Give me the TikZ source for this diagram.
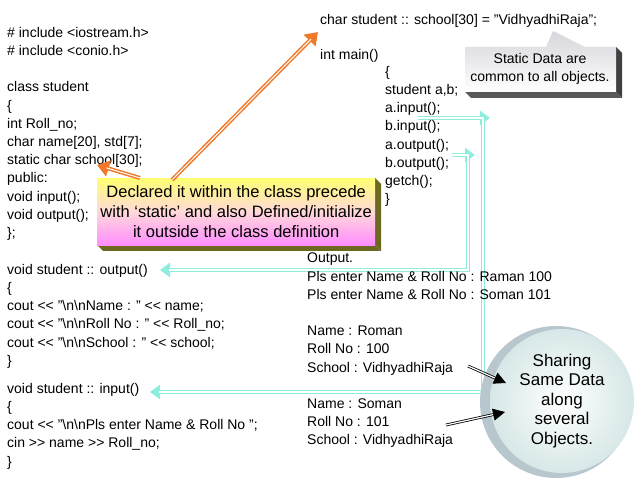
\documentclass[tikz,border=0pt]{standalone}
\usepackage{fontspec}
\setmainfont{Liberation Sans}
\usetikzlibrary{arrows.meta,shapes.callouts}
\definecolor{aqua}{HTML}{8EEEDE}
\definecolor{arr}{HTML}{F07828}
\tikzset{
 code/.style={anchor=north west,align=left,inner sep=0pt,font=\fontsize{14}{18.2}\selectfont},
 cyanarr/.style={draw=aqua,line width=4.5pt,-{Triangle[length=10pt,width=14pt]}},
 cyanin/.style={draw=white,line width=2pt,shorten >=9pt},
 orarr/.style={draw=arr,line width=4pt,-{Triangle[length=12pt,width=16pt]}},
 blkarr/.style={draw=black,double=white,double distance=1.2pt,line width=0.8pt,-{Triangle[length=12pt,width=12pt]}},
}
\begin{document}
\begin{tikzpicture}[x=1pt,y=-1pt]
\useasboundingbox (0,0) rectangle (638,478);
% cyan connectors
\coordinate (ai) at (418,118);
\coordinate (bo) at (452,155);
\coordinate (c1) at (483,118);
\coordinate (c2) at (468,155);
\coordinate (o1) at (160,270);
\coordinate (i1) at (150,392);
\draw[draw=aqua,line width=4.5pt] (ai) -- (c1);
\draw[cyanarr] (c1) |- (i1);
\draw[draw=aqua,line width=4.5pt] (bo) -- (c2);
\draw[cyanarr] (c2) |- (o1);
\draw[draw=aqua,line width=4.5pt,-{Triangle[length=10pt,width=14pt]}] (470,118) -- (490,118);
\draw[draw=aqua,line width=4.5pt,-{Triangle[length=10pt,width=14pt]}] (455,155) -- (475,155);
\draw[cyanin] (ai) -- (c1) |- (i1);
\draw[cyanin] (bo) -- (c2) |- (o1);
% left code
\node[code] (top) at (7,27) {\# include <iostream.h>\\\# include <conio.h>\\\mbox{}\\class student\\\{\\int Roll\_no;\\char name[20], std[7];\\static char school[30];\\public:\\void input();\\void output();\\\};};
\node[code] (outf) at (7,264) {void student :: output()\\\{\\cout <{}< "\textbackslash n\textbackslash nName : " <{}< name;\\cout <{}< "\textbackslash n\textbackslash nRoll No : " <{}< Roll\_no;\\cout <{}< "\textbackslash n\textbackslash nSchool : " <{}< school;\\\}};
\node[code] (inf) at (7,383) {void student :: input()\\\{\\cout <{}< "\textbackslash n\textbackslash nPls enter Name \& Roll No ";\\cin >{}> name >{}> Roll\_no;\\\}};
% right code
\node[code] (decl) at (320,14) {char student :: school[30] = "VidhyadhiRaja";};
\node[code] (main) at (320,49) {int main()};
\node[code] (body) at (385,66) {\{\\student a,b;\\a.input();\\b.input();\\a.output();\\b.output();\\getch();\\\}};
\node[code] (outp) at (307,253) {Output.\\Pls enter Name \& Roll No : Raman 100\\Pls enter Name \& Roll No : Soman 101\\\mbox{}\\Name : Roman\\Roll No : 100\\School : VidhyadhiRaja\\\mbox{}\\Name : Soman\\Roll No : 101\\School : VidhyadhiRaja};
% yellow box
\fill[olive!70!black] (97,245) -- (103,251) -- (381,251) -- (375,245) -- cycle;
\fill[olive!70!black] (375,178) -- (381,184) -- (381,251) -- (375,245) -- cycle;
\node[anchor=north west,minimum width=278pt,minimum height=67pt,inner sep=0pt,top color=yellow!55!white,bottom color=magenta!45!white,middle color=pink!60!white] (box) at (97,178) {};
\node[align=center,font=\fontsize{16.5}{20}\selectfont] (boxt) at (box.center) {Declared it within the class precede\\with ‘static’ and also Defined/initialize\\it outside the class definition};
% orange arrows
\coordinate (a1) at (318,32);
\coordinate (a2) at (97,165);
\draw[orarr] (172,180) -- (a1);
\draw[orarr] (140,178) -- (a2);
\draw[white,line width=1pt,shorten >=10pt] (172,180) -- (a1);
\draw[white,line width=1pt,shorten >=10pt] (140,178) -- (a2);
% callout
\fill[gray!70!black] (465,92) -- (471,98) -- (622,98) -- (616,92) -- cycle;
\fill[gray!50!black] (616,47) -- (622,53) -- (622,98) -- (616,92) -- cycle;
\shade[top color=blue!8!gray!30,bottom color=white] (465,47) -- (546,47) -- (553,31) -- (585,47) -- (616,47) -- (616,92) -- (465,92) -- cycle;
\node[align=center,font=\fontsize{14}{18}\selectfont] (cal) at (540,69) {Static Data are\\common to all objects.};
% circle
\fill[cyan!20!gray!55] (556,402) circle (76);
\shade[inner color=white,outer color=cyan!25!gray!25] (562,401) circle (72);
\node[align=center,font=\fontsize{17}{19.5}\selectfont] (circ) at (562,401) {Sharing\\Same Data\\along\\several\\Objects.};
\coordinate (s1) at (468,366);
\coordinate (s2) at (446,425);
\draw[blkarr] (s1) -- (506,383);
\draw[blkarr] (s2) -- (505,412);
\end{tikzpicture}
\end{document}
